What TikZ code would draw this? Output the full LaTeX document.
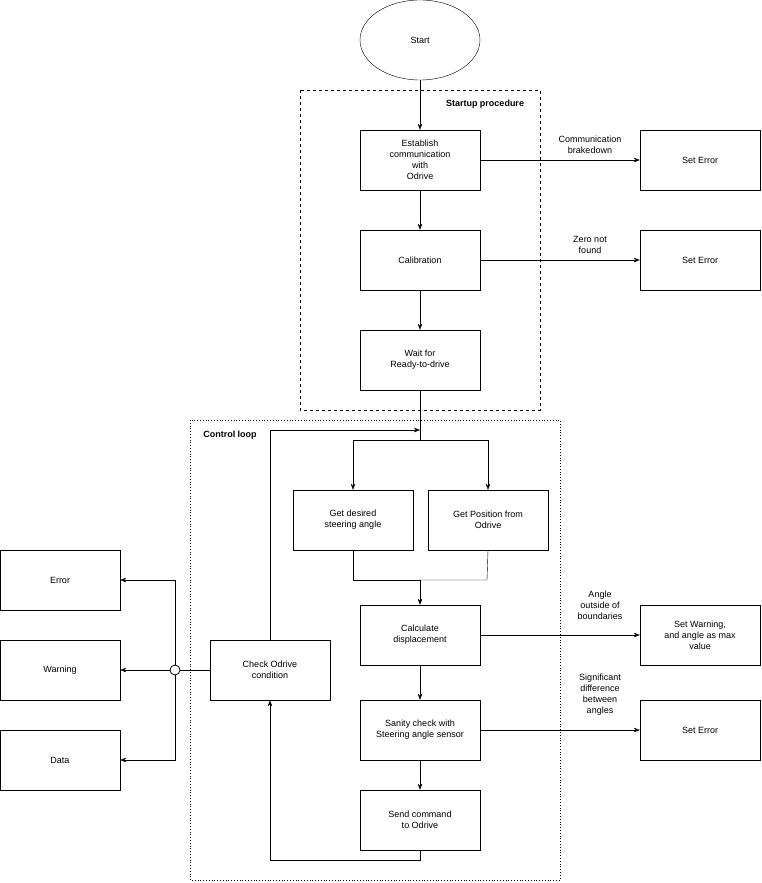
\documentclass[tikz,border=0pt]{standalone}
\usepackage{fontspec}
\setmainfont{Liberation Sans}
\usetikzlibrary{arrows.meta,shapes.geometric}
\begin{document}
\begin{tikzpicture}[x=1pt,y=-1pt,font=\fontsize{9}{11}\selectfont,>={Stealth[length=6pt,width=4.5pt]}]
        \useasboundingbox (0,0) rectangle (761,883);
        \draw[dashed] (300,90) rectangle (540,410);
        \draw[thick,dotted] (190,420) rectangle (560,880);
        \node[font=\fontsize{9}{11}\selectfont\bfseries] (startup) at (485,104) {Startup procedure};
        \node[font=\fontsize{9}{11}\selectfont\bfseries] (loop) at (230,435) {Control loop};
        \node[ellipse,draw,minimum width=120,minimum height=80] (start) at (420,40) {Start};
        \begin{scope}[every node/.style={rectangle,draw,minimum width=120,minimum height=60,align=center,inner sep=1pt}]
          \node (comm) at (420,160) {Establish\\communication\\with\\Odrive};
          \node (err1) at (700,160) {Set Error};
          \node (calib) at (420,260) {Calibration};
          \node (err2) at (700,260) {Set Error};
          \node (wait) at (420,360) {Wait for\\Ready-to-drive};
          \node (desired) at (353,520) {Get desired\\steering angle};
          \node (pos) at (488,520) {Get Position from\\Odrive};
          \node (calc) at (420,635) {Calculate\\displacement};
          \node (warn) at (700,635) {Set Warning,\\and angle as max\\value};
          \node (sanity) at (420,730) {Sanity check with\\Steering angle sensor};
          \node (err3) at (700,730) {Set Error};
          \node (send) at (420,820) {Send command\\to Odrive};
          \node (check) at (270,670) {Check Odrive\\condition};
          \node (error) at (60,580) {Error};
          \node (warning) at (60,670) {Warning};
          \node (data) at (60,760) {Data};
        \end{scope}
        \node[circle,draw,thick,inner sep=0,minimum size=10] (hub) at (175,670) {};
        \begin{scope}[every node/.style={align=center}]
          \node (l1) at (590,145) {Communication\\brakedown};
          \node (l2) at (590,245) {Zero not\\found};
          \node (l3) at (600,605) {Angle\\outside of\\boundaries};
          \node (l4) at (600,695) {Significant\\difference\\between\\angles};
        \end{scope}
        \coordinate (split) at (420,440);
        \coordinate (join) at (420,580);
        \coordinate (back) at (420,430);
        \begin{scope}[every edge/.style={draw=black,->}]
          \path (start) edge (comm);
          \path (comm) edge (calib);
          \path (calib) edge (wait);
          \path (comm) edge (err1);
          \path (calib) edge (err2);
          \path (calc) edge (warn);
          \path (sanity) edge (err3);
          \path (join) edge (calc);
          \path (calc) edge (sanity);
          \path (sanity) edge (send);
        \end{scope}
        \draw (wait) -- (split);
        \draw[->] (split) -| (desired);
        \draw[->] (split) -| (pos);
        \draw (desired.south) |- (join);
        \draw (pos.south) -- (487,580) -- (join);
        \draw[->] (send.south) |- (270,860) -- (check.south);
        \draw[->] (check.north) |- (back);
        \draw (check) -- (hub);
        \draw[->] (hub.north) |- (error);
        \draw[->] (hub) -- (warning);
        \draw[->] (hub.south) |- (data);
\end{tikzpicture}
\end{document}
